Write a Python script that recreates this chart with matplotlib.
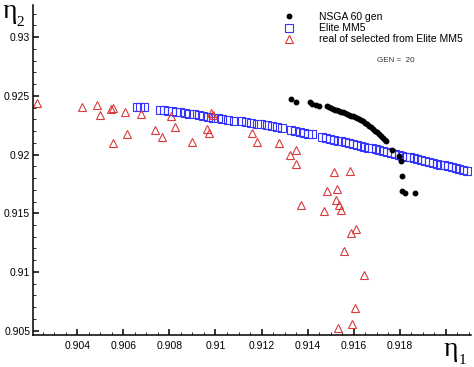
import matplotlib
matplotlib.use("Agg")
import matplotlib.pyplot as plt
from matplotlib.ticker import MultipleLocator, FixedLocator, FuncFormatter

plt.rcParams["font.family"] = ["Liberation Sans", "DejaVu Sans"]

# NSGA 60 gen (black dots)
nsga_x = [0.913283, 0.913478, 0.914100, 0.914196, 0.914348, 0.914478,
          0.914826, 0.914913, 0.915000, 0.915087, 0.915174, 0.915261,
          0.915348, 0.915435, 0.915522, 0.915609, 0.915696, 0.915783,
          0.915870, 0.915957, 0.916043, 0.916130, 0.916217, 0.916304,
          0.916391, 0.916478, 0.916565, 0.916652, 0.916739, 0.916826,
          0.916913, 0.917000, 0.917087, 0.917174, 0.917261, 0.917348,
          0.917413, 0.917652, 0.917978, 0.918043, 0.918117, 0.918117,
          0.918217, 0.918661]
nsga_y = [0.924719, 0.924515, 0.924464, 0.924276, 0.924208, 0.924166,
          0.924106, 0.924038, 0.923962, 0.923893, 0.923834, 0.923766,
          0.923706, 0.923638, 0.923579, 0.923519, 0.923451, 0.923383,
          0.923315, 0.923247, 0.923170, 0.923094, 0.923017, 0.922932,
          0.922830, 0.922719, 0.922600, 0.922464, 0.922336, 0.922192,
          0.922039, 0.921877, 0.921715, 0.921553, 0.921383, 0.921230,
          0.921128, 0.920405, 0.919851, 0.919409, 0.918132, 0.916856,
          0.916703, 0.916686]

# Elite MM5 (blue squares)
elite_x = [0.906587, 0.906739, 0.906891,
           0.907578, 0.907752, 0.907926, 0.908117, 0.908304, 0.908478,
           0.908665, 0.908839, 0.909057, 0.909274, 0.909465, 0.909665,
           0.909900, 0.910100, 0.910291, 0.910535, 0.910826, 0.911087,
           0.911304, 0.911552, 0.911783, 0.911987, 0.912217, 0.912465,
           0.912683, 0.912900,
           0.913261, 0.913457, 0.913652, 0.913826, 0.914000, 0.914174,
           0.91464, 0.91481, 0.91497, 0.91514, 0.91530, 0.91547, 0.91563,
           0.91580, 0.91596, 0.91613, 0.91630, 0.91646, 0.91663, 0.91679,
           0.91696, 0.91712, 0.91729, 0.91745, 0.91762, 0.91778, 0.91795,
           0.91811, 0.91828, 0.91844, 0.91861, 0.91877, 0.91894, 0.91910,
           0.91927, 0.91944, 0.91960, 0.91977, 0.91993, 0.92010, 0.92026,
           0.92043, 0.92059, 0.92076, 0.92092, 0.92109]
elite_y = [0.924064, 0.924038, 0.924021,
           0.923834, 0.923783, 0.923723, 0.923681, 0.923638, 0.923579,
           0.923528, 0.923468, 0.923409, 0.923358, 0.923298, 0.923213,
           0.923153, 0.923102, 0.923043, 0.922958, 0.922872, 0.922813,
           0.922762, 0.922702, 0.922617, 0.922558, 0.922532, 0.922447,
           0.922362, 0.922277,
           0.922064, 0.922004, 0.921936, 0.921851, 0.921783, 0.921724,
           0.92147, 0.92140, 0.92133, 0.92127, 0.92119, 0.92111, 0.92104,
           0.92097, 0.92090, 0.92082, 0.92075, 0.92066, 0.92059, 0.92052,
           0.92045, 0.92038, 0.92030, 0.92022, 0.92013, 0.92006, 0.91999,
           0.91991, 0.91983, 0.91975, 0.91968, 0.91960, 0.91953, 0.91945,
           0.91937, 0.91930, 0.91922, 0.91914, 0.91907, 0.91899, 0.91892,
           0.91885, 0.91877, 0.91870, 0.91863, 0.91856]

# real of selected from Elite MM5 (red triangles)
real_x = [0.902248, 0.904204, 0.904857, 0.904970, 0.905478, 0.905565,
          0.906087, 0.906761, 0.908065, 0.906161, 0.905552, 0.907370,
          0.907683, 0.908261, 0.908987, 0.909639, 0.909709, 0.909804,
          0.909891, 0.911596, 0.911804, 0.912752, 0.913230, 0.913500,
          0.913478, 0.915143, 0.915839, 0.914857, 0.915296, 0.913709,
          0.914717, 0.915239, 0.915348, 0.915465, 0.915900, 0.916122,
          0.915587, 0.916457, 0.916078, 0.915948, 0.915313]
real_y = [0.92436, 0.92404, 0.92423, 0.92338, 0.92385, 0.92395,
          0.92364, 0.92343, 0.92326, 0.92174, 0.92102, 0.92206,
          0.92151, 0.92234, 0.92106, 0.92214, 0.92185, 0.92351,
          0.92338, 0.92182, 0.92106, 0.92100, 0.91998, 0.92040,
          0.91919, 0.91851, 0.91857, 0.91691, 0.91707, 0.91572,
          0.91519, 0.91610, 0.91572, 0.91527, 0.91334, 0.91366,
          0.91175, 0.90975, 0.90691, 0.90559, 0.90523]

labels = ["NSGA 60 gen", "Elite MM5", "real of selected from Elite MM5"]

fig = plt.figure(figsize=(4.74, 3.67), dpi=100)
ax = fig.add_axes([0.0696, 0.0864, 0.9241, 0.8996])

ax.plot(elite_x, elite_y, ls="none", marker="s", ms=5.2, mfc="none",
        mec="#3535ff", mew=0.8, label=labels[1])
ax.plot(real_x, real_y, ls="none", marker="^", ms=5.8, mfc="none",
        mec="#d93a3a", mew=0.8, label=labels[2])
ax.plot(nsga_x, nsga_y, ls="none", marker="o", ms=3.2, color="black",
        label=labels[0])

ax.set_xlim(0.902076, 0.921096)
ax.set_ylim(0.90461, 0.93272)

for s in ["top", "right"]:
    ax.spines[s].set_visible(False)
for s in ["left", "bottom"]:
    ax.spines[s].set_linewidth(1.1)

ax.xaxis.set_major_locator(FixedLocator([0.904, 0.906, 0.908, 0.910, 0.912,
                                         0.914, 0.916, 0.918, 0.920]))
ax.xaxis.set_minor_locator(MultipleLocator(0.0005))
ax.yaxis.set_major_locator(MultipleLocator(0.005))
ax.yaxis.set_minor_locator(MultipleLocator(0.001))


def xfmt(v, pos):
    if abs(v - 0.920) < 1e-6:
        return ""
    return "%g" % round(v, 4)


ax.xaxis.set_major_formatter(FuncFormatter(xfmt))
ax.yaxis.set_major_formatter(FuncFormatter(lambda v, p: "%g" % round(v, 4)))
ax.tick_params(which="major", direction="in", length=4.5, width=1.1,
               labelsize=7.5)
ax.tick_params(which="minor", direction="in", length=2, width=0.6)
ax.tick_params(axis="x", pad=4)
ax.tick_params(axis="y", pad=2)

handles, labs = ax.get_legend_handles_labels()
order = [2, 0, 1]
ax.legend([handles[i] for i in order], [labs[i] for i in order],
          loc="upper left", bbox_to_anchor=(283 / 474, 1 - 12 / 367),
          bbox_transform=fig.transFigure, frameon=False, fontsize=7.5,
          handlelength=1.1, handletextpad=2.4, labelspacing=0.12,
          borderpad=0, borderaxespad=0)

fig.text(377 / 474, 1 - 60 / 367, "GEN =  20", fontsize=5.8, va="center",
         ha="left", color="#333333")

# axis titles: upright serif eta with subscript
serif = ["Liberation Serif", "DejaVu Serif"]
fig.text(3 / 474, 1 - 18 / 367, "η", fontsize=20, family=serif,
         va="baseline", ha="left")
fig.text(16 / 474, 1 - 26 / 367, "2", fontsize=11, family=serif,
         va="baseline", ha="left")
fig.text(444 / 474, 1 - 356 / 367, "η", fontsize=20, family=serif,
         va="baseline", ha="left")
fig.text(459 / 474, 1 - 364 / 367, "1", fontsize=11, family=serif,
         va="baseline", ha="left")

fig.savefig("out.png", dpi=100)
